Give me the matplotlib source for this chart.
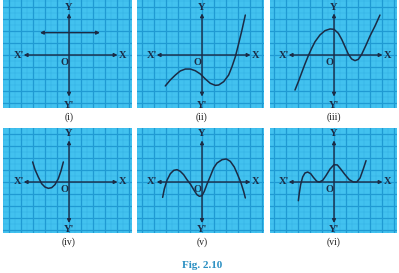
import numpy as np
import matplotlib
matplotlib.use("Agg")
import matplotlib.pyplot as plt

# %% Curve data (grid units, origin at O)

line_i_x = [-2.42, 2.58]
line_i_y = [1.86, 1.86]

curve_ii_x = [-3.06, -2.64, -2.22, -1.81, -1.39, -0.97, -0.56, -0.14, 0.28, 0.69, 1.11, 1.39,
              1.81, 2.22, 2.5, 2.78, 3.06, 3.33, 3.61]
curve_ii_y = [-2.58, -2.08, -1.67, -1.33, -1.17, -1.17, -1.31, -1.58, -2.0, -2.36, -2.53, -2.5,
              -2.22, -1.67, -0.97, -0.14, 0.97, 2.08, 3.33]

curve_iii_x = [-3.25, -2.97, -2.69, -2.42, -2.14, -1.86, -1.58, -1.17, -0.75, -0.33, 0.0, 0.36,
               0.64, 0.92, 1.19, 1.47, 1.75, 2.03, 2.31, 2.67, 3.0, 3.42, 3.83]
curve_iii_y = [-2.92, -2.22, -1.47, -0.75, -0.06, 0.56, 1.11, 1.67, 2.03, 2.17, 2.14, 1.81,
               1.31, 0.69, 0.08, -0.33, -0.47, -0.36, 0.06, 0.83, 1.58, 2.42, 3.33]

curve_iv_x = [-3.03, -2.83, -2.56, -2.28, -2.0, -1.72, -1.44, -1.17, -0.89, -0.67, -0.47]
curve_iv_y = [1.67, 1.03, 0.42, -0.14, -0.42, -0.53, -0.47, -0.22, 0.28, 0.92, 1.67]

curve_v_x = [-3.28, -3.14, -2.92, -2.64, -2.36, -2.08, -1.81, -1.53, -1.25, -0.97, -0.69, -0.42,
             -0.22, 0.0, 0.19, 0.42, 0.69, 0.97, 1.25, 1.67, 2.03, 2.36, 2.69, 2.97, 3.25, 3.47, 3.61]
curve_v_y = [-1.28, -0.58, 0.14, 0.69, 0.97, 1.03, 0.89, 0.61, 0.19, -0.17, -0.64, -1.06,
             -1.19, -1.14, -0.78, -0.17, 0.47, 1.17, 1.58, 1.86, 1.92, 1.72, 1.25, 0.61, -0.08, -0.78, -1.33]

curve_vi_x = [-2.97, -2.89, -2.78, -2.61, -2.42, -2.19, -1.94, -1.72, -1.44, -1.22, -0.94, -0.67,
              -0.33, 0.0, 0.28, 0.56, 0.92, 1.28, 1.61, 1.89, 2.17, 2.44, 2.67]
curve_vi_y = [-1.56, -0.92, -0.22, 0.42, 0.75, 0.83, 0.69, 0.39, 0.06, 0.0, 0.14, 0.53,
              1.08, 1.44, 1.42, 1.08, 0.61, 0.19, 0.0, 0.0, 0.33, 1.08, 1.78]

panel_labels = ['(i)', '(ii)', '(iii)', '(iv)', '(v)', '(vi)']
curves = [(line_i_x, line_i_y), (curve_ii_x, curve_ii_y), (curve_iii_x, curve_iii_y),
          (curve_iv_x, curve_iv_y), (curve_v_x, curve_v_y), (curve_vi_x, curve_vi_y)]

# %% Styling

bg_col = '#42c2ef'
grid_col = '#1f9ad3'
ink = '#1b2b45'
serif = ['Liberation Serif', 'DejaVu Serif']

W, H = 399, 273
unit = 12.0  # pixels per grid square

# panel boxes in pixels: left, top, width, height, origin x, origin y
panels = [(3, 0, 129, 108, 69, 55), (137, 0, 127, 108, 202, 55), (270, 0, 127, 108, 334, 55),
          (3, 128, 129, 105, 69, 182), (137, 128, 127, 105, 202, 182), (270, 128, 127, 105, 334, 182)]

fig = plt.figure(figsize=(W / 100, H / 100), dpi=100)
fig.set_facecolor('white')

for idx, (left, top, w, h, ox, oy) in enumerate(panels):
    ax = fig.add_axes([left / W, 1 - (top + h) / H, w / W, h / H])
    ax.set_facecolor(bg_col)
    ax.set_xlim((left - ox) / unit, (left + w - ox) / unit)
    ax.set_ylim((oy - top - h) / unit, (oy - top) / unit)
    for s in ax.spines.values():
        s.set_visible(False)
    ax.set_xticks([])
    ax.set_yticks([])

    # Grid
    for gx in np.arange(-6, 7):
        ax.axvline(gx, color=grid_col, lw=0.9, zorder=1)
        ax.axvline(gx + 0.5, color=grid_col, lw=0.3, alpha=0.5, zorder=1)
    for gy in np.arange(-5, 6):
        ax.axhline(gy, color=grid_col, lw=0.9, zorder=1)
        ax.axhline(gy + 0.5, color=grid_col, lw=0.3, alpha=0.5, zorder=1)

    # Axes with arrows
    bottom_row = idx >= 3
    y_tip_lo = -3.42 if bottom_row else -3.47
    y_lab_lo = -4.0 if bottom_row else -4.22
    y_lab_hi = 4.03 if bottom_row else 4.0
    arrow = dict(arrowstyle='<|-|>', color=ink, lw=1.0, mutation_scale=5, shrinkA=0, shrinkB=0)
    ax.annotate('', xy=(4.05, 0), xytext=(-3.78, 0), arrowprops=arrow, zorder=3)
    ax.annotate('', xy=(0, 3.47), xytext=(0, y_tip_lo), arrowprops=arrow, zorder=3)
    lab = dict(color=ink, fontsize=7.5, fontweight='bold', family=serif, ha='center', va='center')
    ax.text(4.5, 0, 'X', **lab)
    ax.text(-4.2, 0, "X'", **lab)
    ax.text(0, y_lab_hi, 'Y', **lab)
    ax.text(0, y_lab_lo, "Y'", **lab)
    ax.text(-0.4, -0.62, 'O', **lab)

    # Curve
    cx, cy = curves[idx]
    if idx == 0:
        ax.annotate('', xy=(cx[1], cy[1]), xytext=(cx[0], cy[0]), arrowprops=arrow, zorder=4)
    else:
        ax.plot(cx, cy, color=ink, lw=1.1, zorder=4, solid_capstyle='round', solid_joinstyle='round')

    # Panel label
    fig.text(ox / W, 1 - (top + h + 9.5) / H, panel_labels[idx], fontsize=7, family=serif,
             color='#222222', ha='center', va='center')

fig.text(202 / W, 1 - 265 / H, 'Fig. 2.10', fontsize=8, family=serif, fontweight='bold',
         color='#2a8fc2', ha='center', va='center')

fig.savefig('out.png', dpi=100)
